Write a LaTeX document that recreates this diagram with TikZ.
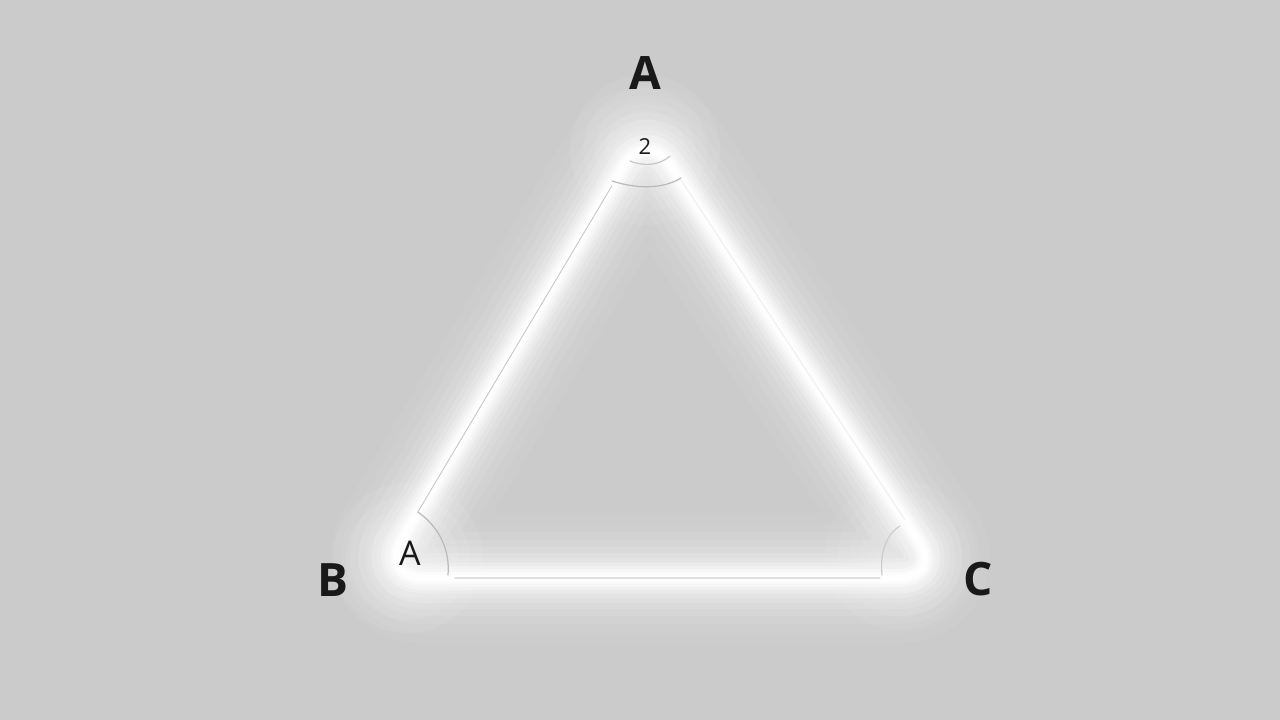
\documentclass[tikz,border=0pt]{standalone}
\usepackage{fontspec}
\setmainfont{Open Sans}
\begin{document}
\begin{tikzpicture}[x=1pt,y=-1pt,
  glow/.style={draw=white, line join=round, rounded corners=45pt},
  edge/.style={draw=gray!45, line width=1.2pt, line cap=round},
  edgehi/.style={draw=white, line width=0.8pt, line cap=round},
  arcline/.style={draw=gray!55, line width=1.2pt, line cap=round},
  vlabel/.style={font=\fontsize{46}{50}\selectfont\bfseries, text=black!90, inner sep=0pt},
  alabel/.style={font=\fontsize{34}{38}\selectfont, text=black!90, inner sep=0pt}]
\fill[color={rgb,255:red,203;green,203;blue,203}] (0,0) rectangle (1280,720);
\useasboundingbox (0,0) rectangle (1280,720);
% glow layers
\foreach \w/\o in {130/0.05,110/0.06,92/0.07,76/0.09,62/0.11,50/0.14,40/0.18,31/0.24,24/0.32,18/0.45,12/0.6,7/0.8}{
  \path[glow, line width=\w pt, draw opacity=\o] (646,128) -- (943,578) -- (379,578) -- cycle;
}
% soft corner spots
\foreach \r in {75,62,50,40,31,23}{
  \fill[white, opacity=0.07] (645,150) circle (\r);
  \fill[white, opacity=0.08] (408,558) circle (\r);
  \fill[white, opacity=0.06] (900,555) circle (\r);
}
% coordinates
\coordinate (tl) at (612,186);
\coordinate (bl) at (418,512);
\coordinate (tr) at (681,180);
\coordinate (br) at (905,520);
\coordinate (bb1) at (455,578);
\coordinate (bb2) at (880,578);
% edges
\draw[edge] (tl) -- (bl);
\draw[edgehi] ([xshift=1pt]tl) -- ([xshift=1pt]bl);
\draw[draw=white!90!gray, line width=1.5pt] (tr) -- (br);
\draw[edge, draw=gray!25] (bb1) -- (bb2);
\draw[edgehi] ([yshift=-1pt]bb1) -- ([yshift=-1pt]bb2);
% arcs
\draw[arcline] (bl) .. controls (440,528) and (450,550) .. (448,575);
\draw[arcline, draw=gray!40] (900,526) .. controls (885,535) and (880,555) .. (882,575);
\draw[arcline] (612,181) .. controls (640,190) and (665,188) .. (681,178);
\draw[arcline, draw=gray!45] (630,161) .. controls (645,167) and (660,165) .. (670,156);
% labels
\node[vlabel] (A) at (645,73) {A};
\node[vlabel] (B) at (333,580) {B};
\node[vlabel] (C) at (978,579) {C};
\node[alabel] (a) at (410,553) {A};
\node[font=\fontsize{22}{24}\selectfont, text=black!90, inner sep=0pt] (two) at (645,147) {2};
\end{tikzpicture}
\end{document}
